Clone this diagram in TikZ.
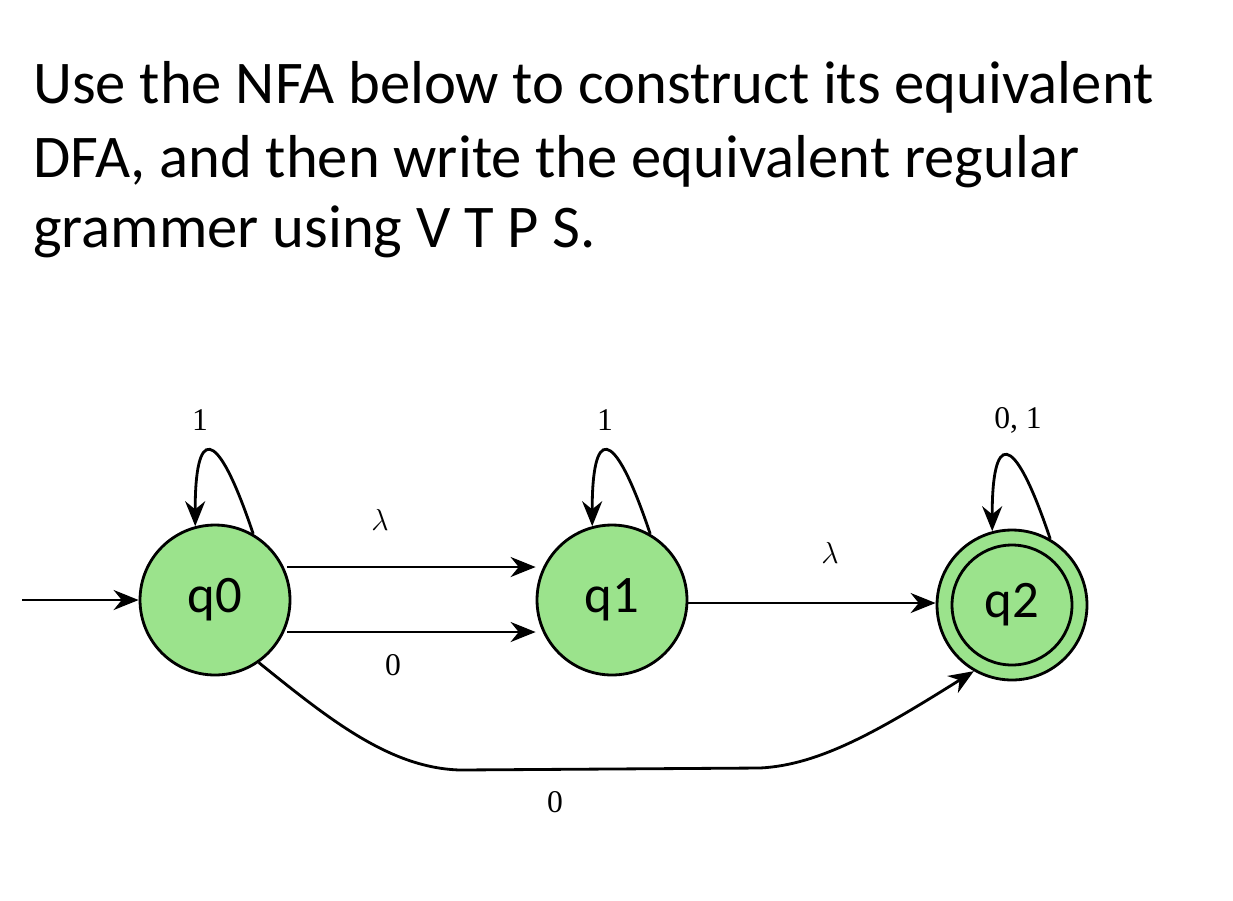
\documentclass[tikz,border=0pt]{standalone}
\usepackage{fontspec}
\setmainfont{Carlito}
\newfontfamily\serifl{Liberation Serif}
\usetikzlibrary{arrows.meta}
\begin{document}
\begin{tikzpicture}[x=0.02cm,y=-0.02cm,
  st/.style={circle,draw,line width=1.6pt,minimum size=3cm,inner sep=0pt,font=\fontsize{30}{30}\selectfont},
  ed/.style={line width=1.6pt,-{Stealth[length=0.5cm,width=0.4cm]}},
  lb/.style={font=\serifl\fontsize{18}{18}\selectfont}]
\useasboundingbox (0,0) rectangle (1233,900);
\tikzset{tt/.style={anchor=base west,font=\fontsize{34.5}{36}\selectfont,inner sep=0pt}}
\node[tt] (t1) at (33,103) {Use the NFA below to construct its equivalent};
\node[tt] (t2) at (33,177) {DFA, and then write the equivalent regular};
\node[tt] (t3) at (33,247) {grammer using V T P S.};
\definecolor{sg}{HTML}{9BE38C}
\node[st,fill=sg] (q0) at (215,600) {q0};
\node[st,fill=sg] (q1) at (612,600) {q1};
\node[st,fill=sg] (q2) at (1012,605) {q2};
\draw[line width=1.6pt] (q2) circle (1.2cm);
\coordinate (s) at (22,600);
\draw[ed] (s) -- (q0);
\draw[ed] (q0.east|-0,567) ++(-4,0) -- (q1.west|-0,567);
\draw[ed] (q0.east|-0,632) ++(-4,0) -- (q1.west|-0,632);
\draw[ed] (q1.east|-0,603) -- (q2.west|-0,603);
\draw[ed] (q0.-55) .. controls (330,720) and (390,768) .. (460,770) -- (760,768) .. controls (820,765) and (880,730) .. (q2.-120);
\draw[ed] (q0.60) .. controls (215,420) and (195,430) .. (q0.105);
\draw[ed] (q1.60) .. controls (612,420) and (592,430) .. (q1.105);
\draw[ed] (q2.60) .. controls (1012,425) and (992,435) .. (q2.105);
\node[lb] (l1) at (200,420) {1};
\node[lb] (l2) at (605,420) {1};
\node[lb] (l3) at (1018,420) {0, 1};
\node[lb] (l4) at (380,520) {$\lambda$};
\node[lb] (l5) at (393,665) {0};
\node[lb] (l6) at (830,553) {$\lambda$};
\node[lb] (l7) at (555,802) {0};
\end{tikzpicture}
\end{document}
